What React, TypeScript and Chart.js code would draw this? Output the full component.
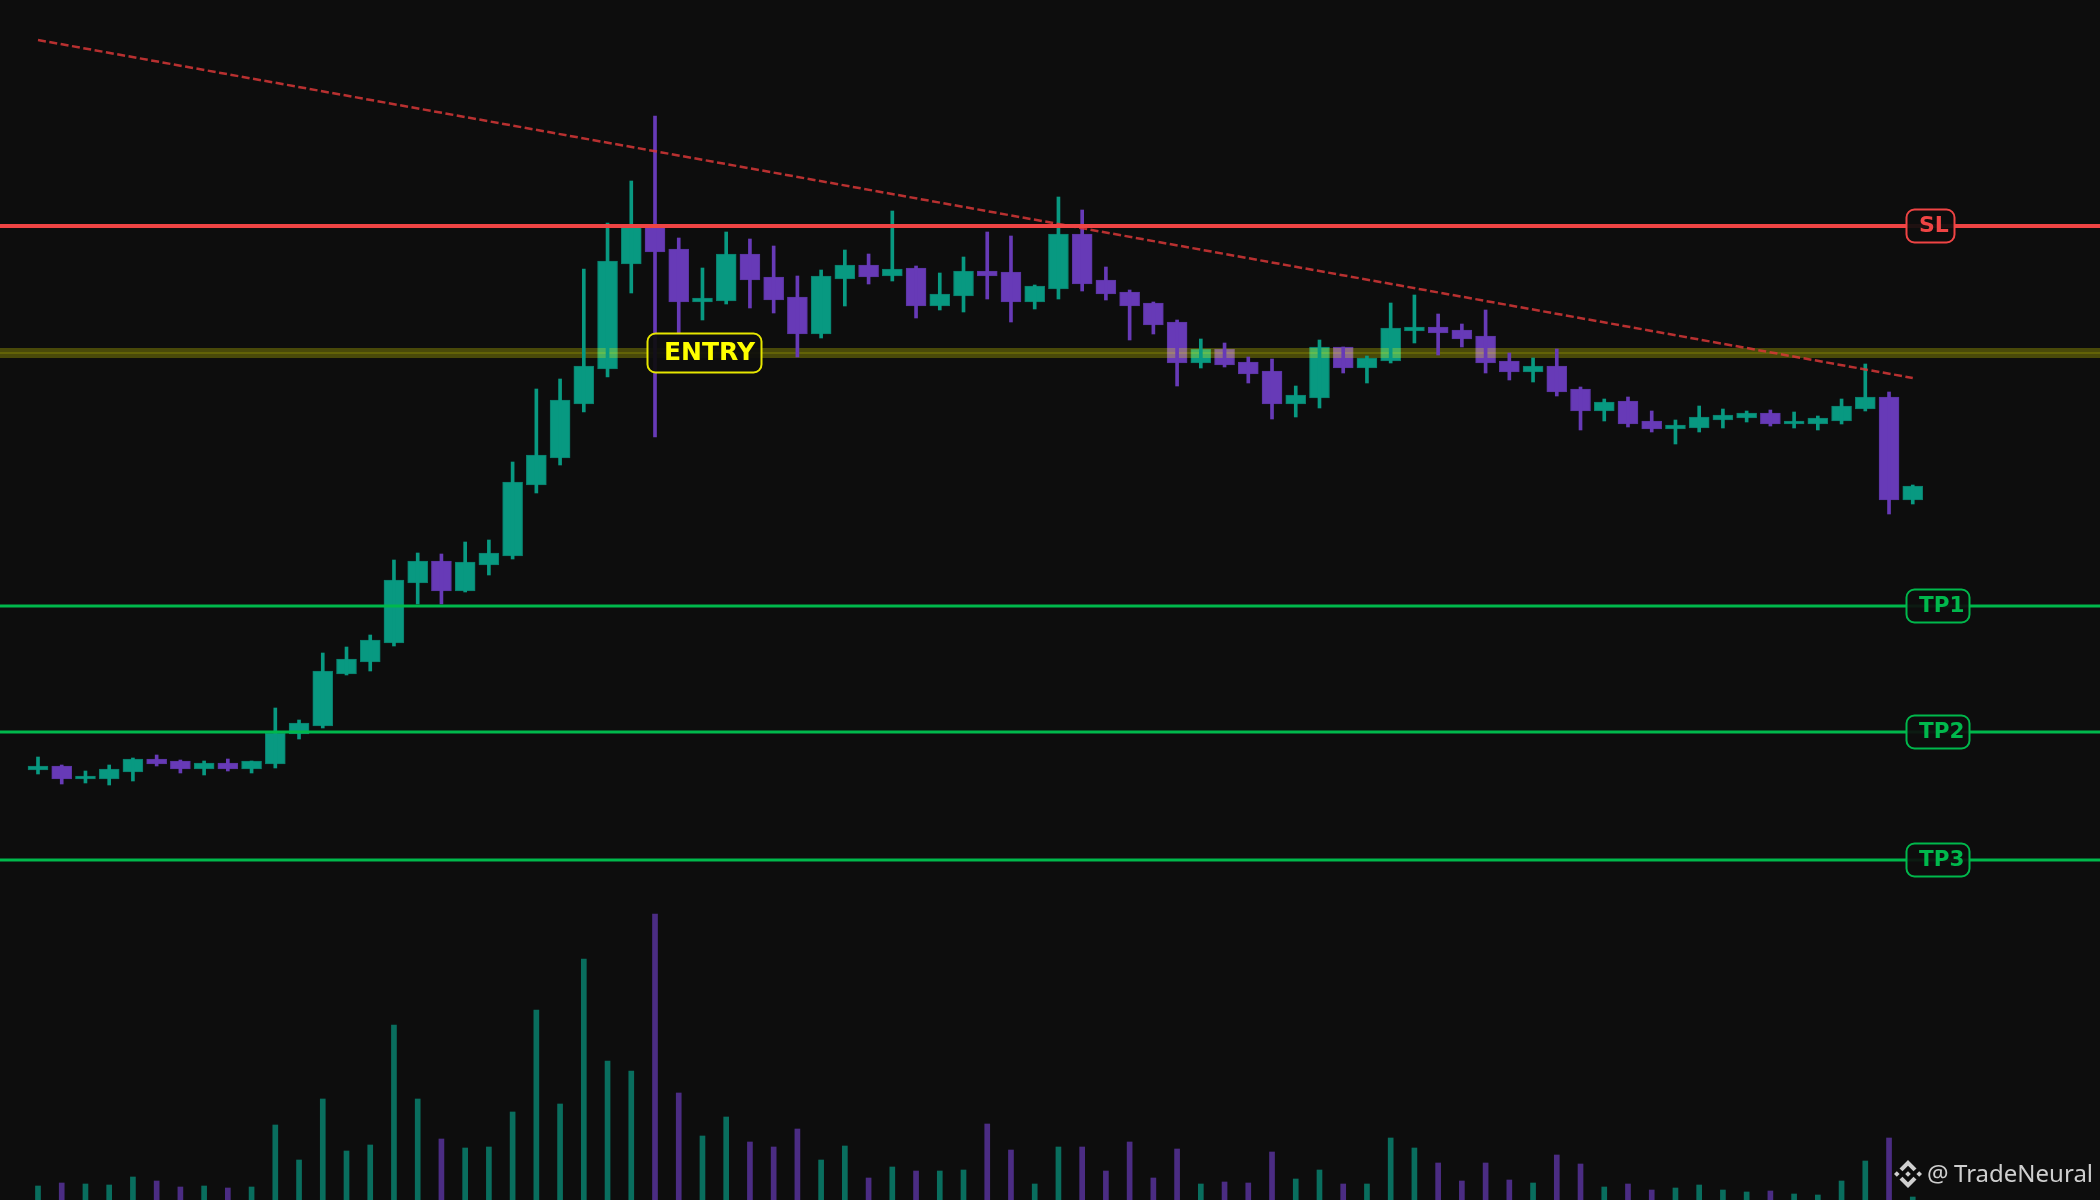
import React, { useEffect, useRef } from "react";
import { Chart, registerables } from "chart.js";

Chart.register(...registerables);

const opens = [430,434,421,421,428,441,439,431,437,431,436,466,474,526,538,557,617,639,609,635,644,715,742,796,831,936,974,951,898,899,946,923,903,866,921,935,924,932,894,904,929,928,898,911,966,920,908,897,878,837,851,838,829,796,802,853,832,839,869,873,870,864,839,828,834,811,789,799,779,771,772,780,782,787,776,776,779,791,803,700];
const highs = [443,435,429,435,442,445,440,439,441,439,492,480,547,553,565,640,647,646,658,660,738,811,821,931,977,1019,1084,962,932,968,961,954,924,930,950,946,989,934,927,943,968,964,915,1003,990,933,910,898,880,861,857,843,841,814,860,853,844,897,905,886,876,890,847,842,851,813,801,803,789,780,794,791,789,790,788,784,801,836,808,715];
const lows = [426,416,417,415,419,434,427,425,429,427,432,461,472,525,529,554,596,596,608,625,641,707,735,788,823,907,763,867,880,896,892,887,843,862,894,916,919,882,890,888,901,878,891,901,909,900,860,866,814,832,833,817,781,783,792,827,817,837,857,845,853,827,820,818,804,770,779,773,768,756,768,772,778,774,772,770,776,789,686,696];
const closes = [434,421,424,431,441,436,431,437,431,439,467,477,529,541,560,620,639,609,638,647,718,745,800,834,939,974,948,898,902,946,920,900,866,924,935,923,931,894,906,929,924,898,914,966,916,906,894,875,837,851,835,826,796,805,853,832,842,872,873,867,861,837,828,834,808,789,798,776,771,775,783,785,787,776,779,782,794,803,700,714];
const volumes = [14,17,16,15,23,19,13,14,12,13,75,40,101,49,55,175,101,61,52,53,88,190,96,241,139,129,286,107,64,83,58,53,71,40,54,22,33,29,29,30,76,50,16,53,53,29,58,22,51,16,18,17,48,21,30,16,16,62,52,37,19,37,20,17,45,36,13,16,10,12,15,10,8,9,6,5,19,39,62,3];

const slLevel = 974;
const entryLevel = 847;
const tpLevels = [594, 468, 340];
const tpNames = ["TP1", "TP2", "TP3"];
const trendIndex = [0, 79];
const trendValues = [1160, 822];
const watermarkAt = "@";
const watermarkName = "TradeNeural";

const BG = "#0d0d0d";
const TEAL = "#089981";
const PURPLE = "#673ab7";
const RED = "#ef4444";
const GREEN = "#00b84c";
const YELLOW = "#ffff00";
const X_MIN = -1.601;
const X_MAX = 86.89;

const isUp = (i: number) => closes[i] >= opens[i];
const idx = opens.map((_, i) => i);
const span = (v: number) => [{ x: X_MIN, y: v }, { x: X_MAX, y: v }];

function roundBox(c: CanvasRenderingContext2D, x: number, y: number, w: number, h: number, color: string, r = 8) {
  c.beginPath();
  c.roundRect(x, y, w, h, r);
  c.fillStyle = "rgba(13,13,13,0.92)";
  c.fill();
  c.lineWidth = 2;
  c.strokeStyle = color;
  c.stroke();
}

const overlayPlugin = {
  id: "overlay",
  afterDraw(chart: any) {
    const c: CanvasRenderingContext2D = chart.ctx;
    const y = chart.scales.y;
    c.save();
    c.textAlign = "left";
    c.textBaseline = "alphabetic";

    const tag = (text: string, level: number, x: number, w: number, h: number, tx: number, font: string, fg: string, border: string, dy: number) => {
      const py = y.getPixelForValue(level);
      roundBox(c, x, py - h / 2, w, h, border);
      c.font = font;
      c.fillStyle = fg;
      c.fillText(text, tx, py + dy);
    };

    tag("ENTRY", entryLevel, 647.5, 114, 39, 664, "bold 25px 'DejaVu Sans'", YELLOW, "#e6e600", 7);
    tag("SL", slLevel, 1906.5, 48, 33, 1919, "bold 22px 'DejaVu Sans'", RED, RED, 6);
    tpLevels.forEach((lv, i) => {
      tag(tpNames[i], lv, 1906.5, 63, 33, 1919, "bold 21.5px 'DejaVu Sans'", GREEN, GREEN, 6);
    });

    // watermark
    const cx = 1908;
    const cy = 1174;
    c.fillStyle = "#cfcfcf";
    const poly = (pts: number[][]) => {
      c.beginPath();
      pts.forEach((p, i) => (i ? c.lineTo(cx + p[0], cy + p[1]) : c.moveTo(cx + p[0], cy + p[1])));
      c.closePath();
      c.fill();
    };
    const dia = (dx: number, dy: number, r: number) => poly([[dx, dy - r], [dx + r, dy], [dx, dy + r], [dx - r, dy]]);
    poly([[0, -14], [8.5, -5.5], [5.5, -2.8], [0, -8.2], [-5.5, -2.8], [-8.5, -5.5]]);
    poly([[0, 14], [8.5, 5.5], [5.5, 2.8], [0, 8.2], [-5.5, 2.8], [-8.5, 5.5]]);
    dia(-11.2, 0, 2.8);
    dia(11.2, 0, 2.8);
    dia(0, 0, 2.8);
    c.font = "24px 'Noto Sans'";
    c.fillText(watermarkAt, 1927, 1182);
    c.fillText(watermarkName, 1954, 1182);
    c.restore();
  },
};

const bgPlugin = {
  id: "bg",
  beforeDraw(chart: any) {
    const c = chart.ctx;
    c.save();
    c.fillStyle = BG;
    c.fillRect(0, 0, chart.width, chart.height);
    c.restore();
  },
};

export default function App() {
  const ref = useRef<HTMLCanvasElement>(null);
  useEffect(() => {
    document.body.style.margin = "0";
    document.body.style.background = BG;
    const lineBase = { type: "line" as const, pointRadius: 0, fill: false, yAxisID: "y", parsing: false as const, tension: 0 };
    const chart = new Chart(ref.current as HTMLCanvasElement, {
      type: "bar",
      data: {
        datasets: [
          {
            label: "volume",
            yAxisID: "v",
            order: 10,
            data: idx.map((i) => ({ x: i, y: volumes[i] })),
            backgroundColor: idx.map((i) => (isUp(i) ? "rgba(8,153,129,0.7)" : "rgba(103,58,183,0.7)")),
            barThickness: 5,
            grouped: false,
          },
          {
            label: "body",
            yAxisID: "y",
            order: 9,
            data: idx.map((i) => ({ x: i, y: [opens[i], closes[i]] })),
            backgroundColor: idx.map((i) => (isUp(i) ? TEAL : PURPLE)),
            borderColor: idx.map((i) => (isUp(i) ? "#0a7d6b" : "#5a34a0")),
            borderWidth: 1,
            borderSkipped: false,
            barThickness: 20,
            grouped: false,
          },
          { ...lineBase, label: "entry band", order: 8, data: span(entryLevel), borderColor: "rgba(255,255,0,0.25)", borderWidth: 10 },
          { ...lineBase, label: "entry core", order: 7, data: span(entryLevel), borderColor: "rgba(255,255,0,0.14)", borderWidth: 2 },
          {
            label: "wick",
            yAxisID: "y",
            order: 6,
            data: idx.map((i) => ({ x: i, y: [lows[i], highs[i]] })),
            backgroundColor: idx.map((i) => (isUp(i) ? TEAL : PURPLE)),
            barThickness: 3,
            grouped: false,
          },
          {
            ...lineBase,
            label: "trend",
            order: 5,
            data: trendIndex.map((x, i) => ({ x, y: trendValues[i] })),
            borderColor: "rgba(215,55,55,0.85)",
            borderWidth: 2.5,
            borderDash: [8, 3.5],
          },
          { ...lineBase, label: "SL", order: 4, data: span(slLevel), borderColor: RED, borderWidth: 4 },
          ...tpLevels.map((lv, i) => ({ ...lineBase, label: tpNames[i], order: 3, data: span(lv), borderColor: GREEN, borderWidth: 3 })),
        ] as any,
      },
      options: {
        animation: false,
        responsive: false,
        devicePixelRatio: 1,
        layout: { padding: 0 },
        plugins: { legend: { display: false }, tooltip: { enabled: false } },
        scales: {
          x: { type: "linear", display: false, min: X_MIN, max: X_MAX, offset: false, grid: { display: false } },
          y: { type: "linear", display: false, min: 0, max: 1200, grid: { display: false } },
          v: { type: "linear", display: false, min: 0, max: 1200, grid: { display: false } },
        },
      } as any,
      plugins: [bgPlugin, overlayPlugin],
    });
    return () => chart.destroy();
  }, []);
  return <canvas ref={ref} width={2100} height={1200} style={{ display: "block", width: 2100, height: 1200 }} />;
}
